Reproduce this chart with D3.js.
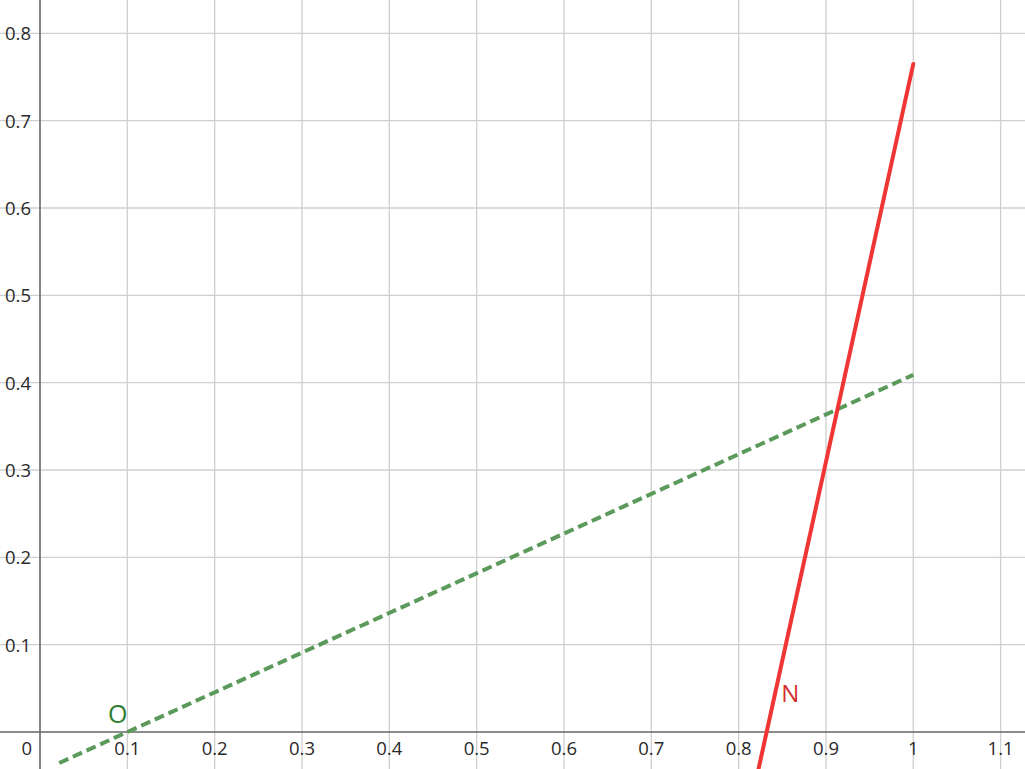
<!DOCTYPE html>
<html><head><meta charset="utf-8">
<script src="https://cdn.jsdelivr.net/npm/d3@7"></script>
<style>html,body{margin:0;padding:0;background:#fff;overflow:hidden}svg{display:block}</style>
</head><body>
<svg id="c" width="1025" height="769"></svg>
<script>
const xTicks = [0.1,0.2,0.3,0.4,0.5,0.6,0.7,0.8,0.9,1,1.1];
const yTicks = [0.1,0.2,0.3,0.4,0.5,0.6,0.7,0.8];
const xTickLabels = ["0.1","0.2","0.3","0.4","0.5","0.6","0.7","0.8","0.9","1","1.1"];
const yTickLabels = ["0.1","0.2","0.3","0.4","0.5","0.6","0.7","0.8"];
const greenLine = [[0.022,-0.0355],[1,0.409]];
const redLine = [[0.82,-0.055],[1,0.765]];
const labelO = {text:"O", x:0.089, y:0.010};
const labelN = {text:"N", x:0.859, y:0.034};

const W=1025,H=769;
const x0=40, y0=732, unit=873.3;
const x = d3.scaleLinear().domain([0, (W-x0)/unit]).range([x0, W]);
const y = d3.scaleLinear().domain([0, y0/unit]).range([y0, 0]);
const svg = d3.select("#c");
const font = "'Open Sans', 'Noto Sans', sans-serif";

// grid
svg.append("g").selectAll("line").data(xTicks).join("line")
  .attr("x1",d=>x(d)).attr("x2",d=>x(d)).attr("y1",0).attr("y2",H)
  .attr("stroke","#cfcfcf").attr("stroke-width",1.3);
svg.append("g").selectAll("line").data(yTicks).join("line")
  .attr("y1",d=>y(d)).attr("y2",d=>y(d)).attr("x1",0).attr("x2",W)
  .attr("stroke","#cfcfcf").attr("stroke-width",1.3);

// axes
svg.append("line").attr("x1",0).attr("x2",W).attr("y1",y(0)).attr("y2",y(0))
  .attr("stroke","#666").attr("stroke-width",1.6);
svg.append("line").attr("x1",x(0)).attr("x2",x(0)).attr("y1",0).attr("y2",H)
  .attr("stroke","#666").attr("stroke-width",1.6);

// tick labels
svg.append("g").selectAll("text").data(xTicks).join("text")
  .attr("x",d=>x(d)).attr("y",y(0)+23).attr("text-anchor","middle")
  .attr("font-family",font).attr("font-size",18.5).attr("fill","#2a2a2a")
  .text((d,i)=>xTickLabels[i]);
svg.append("g").selectAll("text").data(yTicks).join("text")
  .attr("x",x(0)-9).attr("y",d=>y(d)+7).attr("text-anchor","end")
  .attr("font-family",font).attr("font-size",18.5).attr("fill","#2a2a2a")
  .text((d,i)=>yTickLabels[i]);
svg.append("text").attr("x",x(0)-8).attr("y",y(0)+23).attr("text-anchor","end")
  .attr("font-family",font).attr("font-size",18.5).attr("fill","#2a2a2a").text("0");

const line = d3.line().x(d=>x(d[0])).y(d=>y(d[1]));
svg.append("path").datum(greenLine).attr("d",line).attr("fill","none")
  .attr("stroke","#5b9a5b").attr("stroke-width",4).attr("stroke-dasharray","10,5");
svg.append("path").datum(redLine).attr("d",line).attr("fill","none")
  .attr("stroke","#f03535").attr("stroke-width",4).attr("stroke-linecap","round");

svg.append("text").attr("x",x(labelO.x)).attr("y",y(labelO.y)).attr("text-anchor","middle")
  .attr("font-family",font).attr("font-size",25).attr("fill","#2e7d32").text(labelO.text);
svg.append("text").attr("x",x(labelN.x)).attr("y",y(labelN.y)).attr("text-anchor","middle")
  .attr("font-family",font).attr("font-size",24).attr("fill","#d32f2f").text(labelN.text);
</script>
</body></html>
